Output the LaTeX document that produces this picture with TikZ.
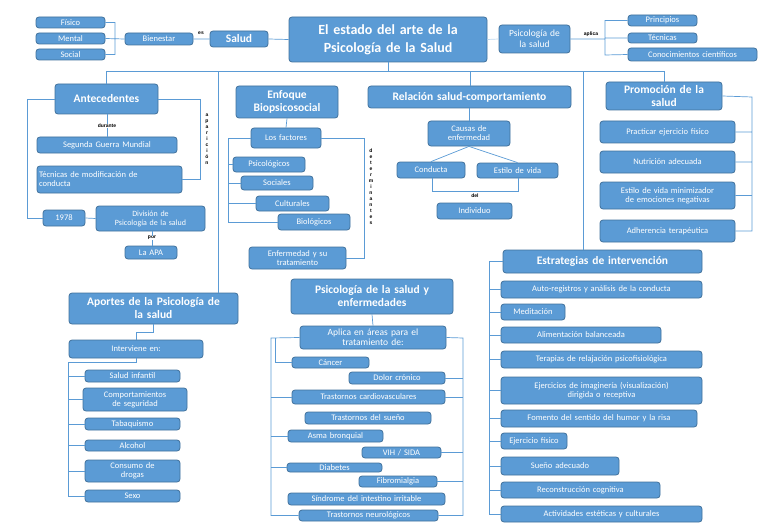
\documentclass[tikz,border=0pt]{standalone}
\usepackage{fontspec}
\setmainfont{Carlito}
\newfontfamily\lblfont{Liberation Sans}
\definecolor{boxblue}{HTML}{5B9BD5}
\definecolor{boxedge}{HTML}{41719C}
\definecolor{lnc}{HTML}{5B9BD5}
\newcommand{\B}[7][]{%
 \pgfmathsetmacro{\cx}{(#3+#5)/2}\pgfmathsetmacro{\cy}{(#4+#6)/2}%
 \pgfmathsetmacro{\ww}{#5-#3}\pgfmathsetmacro{\hh}{#6-#4}%
 \node[box,minimum width=\ww pt,minimum height=\hh pt,text width=\ww pt-4pt,#1] (#2) at (\cx,\cy) {#7};}
\newcommand{\Lb}[3]{\node[lbl] (#1) at (#2) {#3};}
\begin{document}
\begin{tikzpicture}[x=1pt,y=-1pt,
 box/.style={rounded corners=3pt,fill=boxblue,draw=boxedge,line width=0.8pt,text=white,inner sep=0pt,align=center,font=\fontsize{8.5}{9}\selectfont},
 big/.style={font=\fontsize{11.5}{13}\selectfont\bfseries},
 huge/.style={font=\fontsize{14}{18}\selectfont\bfseries},
 lbl/.style={font=\lblfont\fontsize{5}{6}\selectfont\bfseries,inner sep=0pt,align=center},
 ln/.style={draw=lnc,line width=0.7pt}]
\useasboundingbox (0,0) rectangle (768,532);
% top row
\B{fis}{36}{17}{105}{28}{Físico}
\B{men}{36}{33}{105}{44}{Mental}
\B{soc}{36}{49}{105}{60}{Social}
\B{bien}{125}{33}{193}{45}{Bienestar}
\B[big]{salud}{210}{31}{268}{47}{Salud}
\B[huge]{title}{289}{17}{487}{62}{El estado del arte de la\\Psicología de la Salud}
\B[font=\fontsize{9.5}{11}\selectfont]{psal}{499}{25}{570}{53}{Psicología de\\la salud}
\B{pri}{628}{15}{697}{26}{Principios}
\B{tec}{628}{33}{697}{43}{Técnicas}
\B{con}{628}{48}{757}{61}{Conocimientos científicos}
\Lb{es}{201,33}{es}
\Lb{apl}{591,34}{aplica}
\draw[ln] (fis.east) -| (115,39) (men.east) -- (bien.west) (soc.east) -| (115,39);
\draw[ln] (bien.east) -- (salud.west) (salud.east) -- (title.west);
\draw[ln,draw=lnc!40] (title.east) -- (psal.west);
\draw[ln] (psal.east) -- (605,39) (pri.west) -| (605,55) -- (con.west) (tec.west) -- (605,38);
% main trunk
\B[big]{ant}{55}{84}{158}{114}{Antecedentes}
\B[big]{enf}{236}{86}{338}{118}{Enfoque\\Biopsicosocial}
\B[big]{rel}{368}{86}{571}{108}{Relación salud-comportamiento}
\B[big]{pro}{606}{82}{722}{110}{Promoción de la\\salud}
\B[big]{est}{503}{250}{702}{273}{Estrategias de intervención}
\B[big]{apo}{69}{293}{238}{324}{Aportes de la Psicología de\\la salud}
\B[big]{pse}{291}{279}{453}{314}{Psicología de la salud y\\enfermedades}
\draw[ln] (388,62) -- (388,71);
\draw[ln] (ant.north) |- (664,71) -- (pro.north);
\draw[ln] (rel.north -| 470,0) -- (470,71);
\draw[ln] (est.north -| 583,0) -- (583,71);
\draw[ln] (apo.north -| 218,0) -- (218,72);
% antecedentes
\B{sgm}{37}{137}{177}{153}{Segunda Guerra Mundial}
\B[align=left]{tmc}{37}{166}{182}{193}{Técnicas de modificación de\\conducta}
\B{y78}{43}{210}{85}{226}{1978}
\B[font=\fontsize{8}{9}\selectfont]{div}{96}{206}{205}{231}{División de\\Psicología de la salud}
\B{apa}{125}{246}{177}{259}{La APA}
\Lb{dur}{107,126}{durante}
\Lb{por}{152,238}{por}
\Lb{apar}{207,139}{a\\p\\a\\r\\i\\c\\i\\ó\\n}
\draw[ln] (ant.south -| 107,0) -- (dur.north) (dur.south) -- (sgm.north -| 107,0);
\draw[ln] (ant.east) -- (200,99) |- (tmc.east);
\draw[ln] (ant.west) -- (27,99) |- (y78.west);
\draw[ln] (y78.east) -- (div.west);
\draw[ln] (div.south -| 152,0) -- (por.north) (por.south) -- (apa.north -| 152,0);
% enfoque
\B{fac}{251}{128}{321}{148}{Los factores}
\B{psi}{233}{157}{305}{172}{Psicológicos}
\B{soc2}{241}{176}{313}{190}{Sociales}
\B{cul}{256}{196}{329}{211}{Culturales}
\B{bio}{278}{214}{350}{230}{Biológicos}
\B{ent}{249}{247}{346}{269}{Enfermedad y su\\tratamiento}
\Lb{det}{371,187}{d\\e\\t\\e\\r\\m\\i\\n\\a\\n\\t\\e\\s}
\draw[ln] (enf.south) -- (fac.north);
\draw[ln] (fac.west) -- (228,138) |- (bio.west) (psi.west) -- (228,164.5) (soc2.west) -- (228,183) (cul.west) -- (228,203.5);
\draw[ln] (fac.east) -- (364,138) |- (ent.east);
% relacion
\B{cau}{428}{121}{510}{146}{Causas de\\enfermedad}
\B{cond}{397}{162}{465}{178}{Conducta}
\B{edv}{477}{163}{558}{178}{Estilo de vida}
\B{ind}{437}{203}{512}{219}{Individuo}
\Lb{del}{475,196}{del}
\draw[ln] (rel.south -| cau.north) -- (cau.north);
\draw[ln] (cau.south) -- (cond.north) (cau.south) -- (edv.north);
\draw[ln] (cond.south -| 432,0) |- (518,191) -- (edv.south -| 518,0);
% promocion
\B{pra}{600}{121}{735}{143}{Practicar ejercicio físico}
\B{nut}{600}{151}{735}{173}{Nutrición adecuada}
\B{edm}{600}{182}{735}{209}{Estilo de vida minimizador\\de emociones negativas}
\B{adh}{600}{220}{735}{242}{Adherencia terapéutica}
\draw[ln] (pro.east) -- (752,97) |- (adh.east) (pra.east) -- (752,132) (nut.east) -- (752,162) (edm.east) -- (752,195.5);
% estrategias
\B{e1}{501}{281}{702}{298}{Auto-registros y análisis de la conducta}
\B{e2}{501}{304}{565}{320}{Meditación}
\B{e3}{501}{327}{661}{343}{Alimentación balanceada}
\B{e4}{501}{351}{702}{368}{Terapias de relajación psicofisiológica}
\B{e5}{501}{377}{702}{404}{Ejercicios de imaginería (visualización)\\dirigida o receptiva}
\B{e6}{501}{410}{697}{427}{Fomento del sentido del humor y la risa}
\B{e7}{501}{433}{567}{449}{Ejercicio físico}
\B{e8}{501}{457}{619}{475}{Sueño adecuado}
\B{e9}{501}{482}{660}{498}{Reconstrucción cognitiva}
\B{e10}{501}{506}{702}{522}{Actividades estéticas y culturales}
\draw[ln] (est.west) -- (489,261.5) |- (e10.west);
\foreach \ei in {e1,e2,e3,e4,e5,e6,e7,e8,e9} \draw[ln] (\ei.west -| 489,0) -- (\ei.west);
% aportes
\B{int}{69}{340}{203}{358}{Interviene en:}
\B{a1}{85}{370}{180}{382}{Salud infantil}
\B{a2}{83}{388}{187}{411}{Comportamientos\\de seguridad}
\B{a3}{85}{418}{180}{430}{Tabaquismo}
\B{a4}{85}{440}{180}{451}{Alcohol}
\B{a5}{85}{460}{180}{482}{Consumo de\\drogas}
\B{a6}{85}{490}{180}{502}{Sexo}
\draw[ln] (apo.south -| 153,0) -- (153,332) -| (int.north -| 136,0);
\draw[ln] (int.south -| 136,0) -- (136,362) -| (68,496) -- (a6.west);
\foreach \ai in {a1,a2,a3,a4,a5} \draw[ln] (\ai.west -| 68,0) -- (\ai.west);
% enfermedades
\B[font=\fontsize{9.5}{10}\selectfont]{apl2}{300}{326}{446}{349}{Aplica en áreas para el\\tratamiento de:}
\B{d1}{292}{357}{369}{368}{Cáncer}
\B{d2}{349}{372}{445}{384}{Dolor crónico}
\B{d3}{292}{390}{445}{404}{Trastornos cardiovasculares}
\B{d4}{305}{412}{431}{424}{Trastornos del sueño}
\B{d5}{288}{430}{383}{442}{Asma bronquial}
\B{d6}{362}{447}{441}{458}{VIH / SIDA}
\B{d7}{287}{463}{382}{472}{Diabetes}
\B{d8}{359}{476}{437}{487}{Fibromialgia}
\B{d9}{288}{493}{445}{505}{Síndrome del intestino irritable}
\B{d10}{299}{510}{438}{521}{Trastornos neurológicos}
\draw[ln] (pse.south) -- (apl2.north);
\draw[ln] (apl2.west) -- (271,338) |- (d10.west);
\draw[ln] (apl2.east) -- (463,338) |- (d10.east);
\draw[ln] (275,338) |- (d1.west);
\foreach \di in {d3,d5,d7} \draw[ln] (\di.west -| 271,0) -- (\di.west);
\foreach \di in {d2,d3,d6,d8} \draw[ln] (\di.east) -- (\di.east -| 463,0);
\end{tikzpicture}
\end{document}
